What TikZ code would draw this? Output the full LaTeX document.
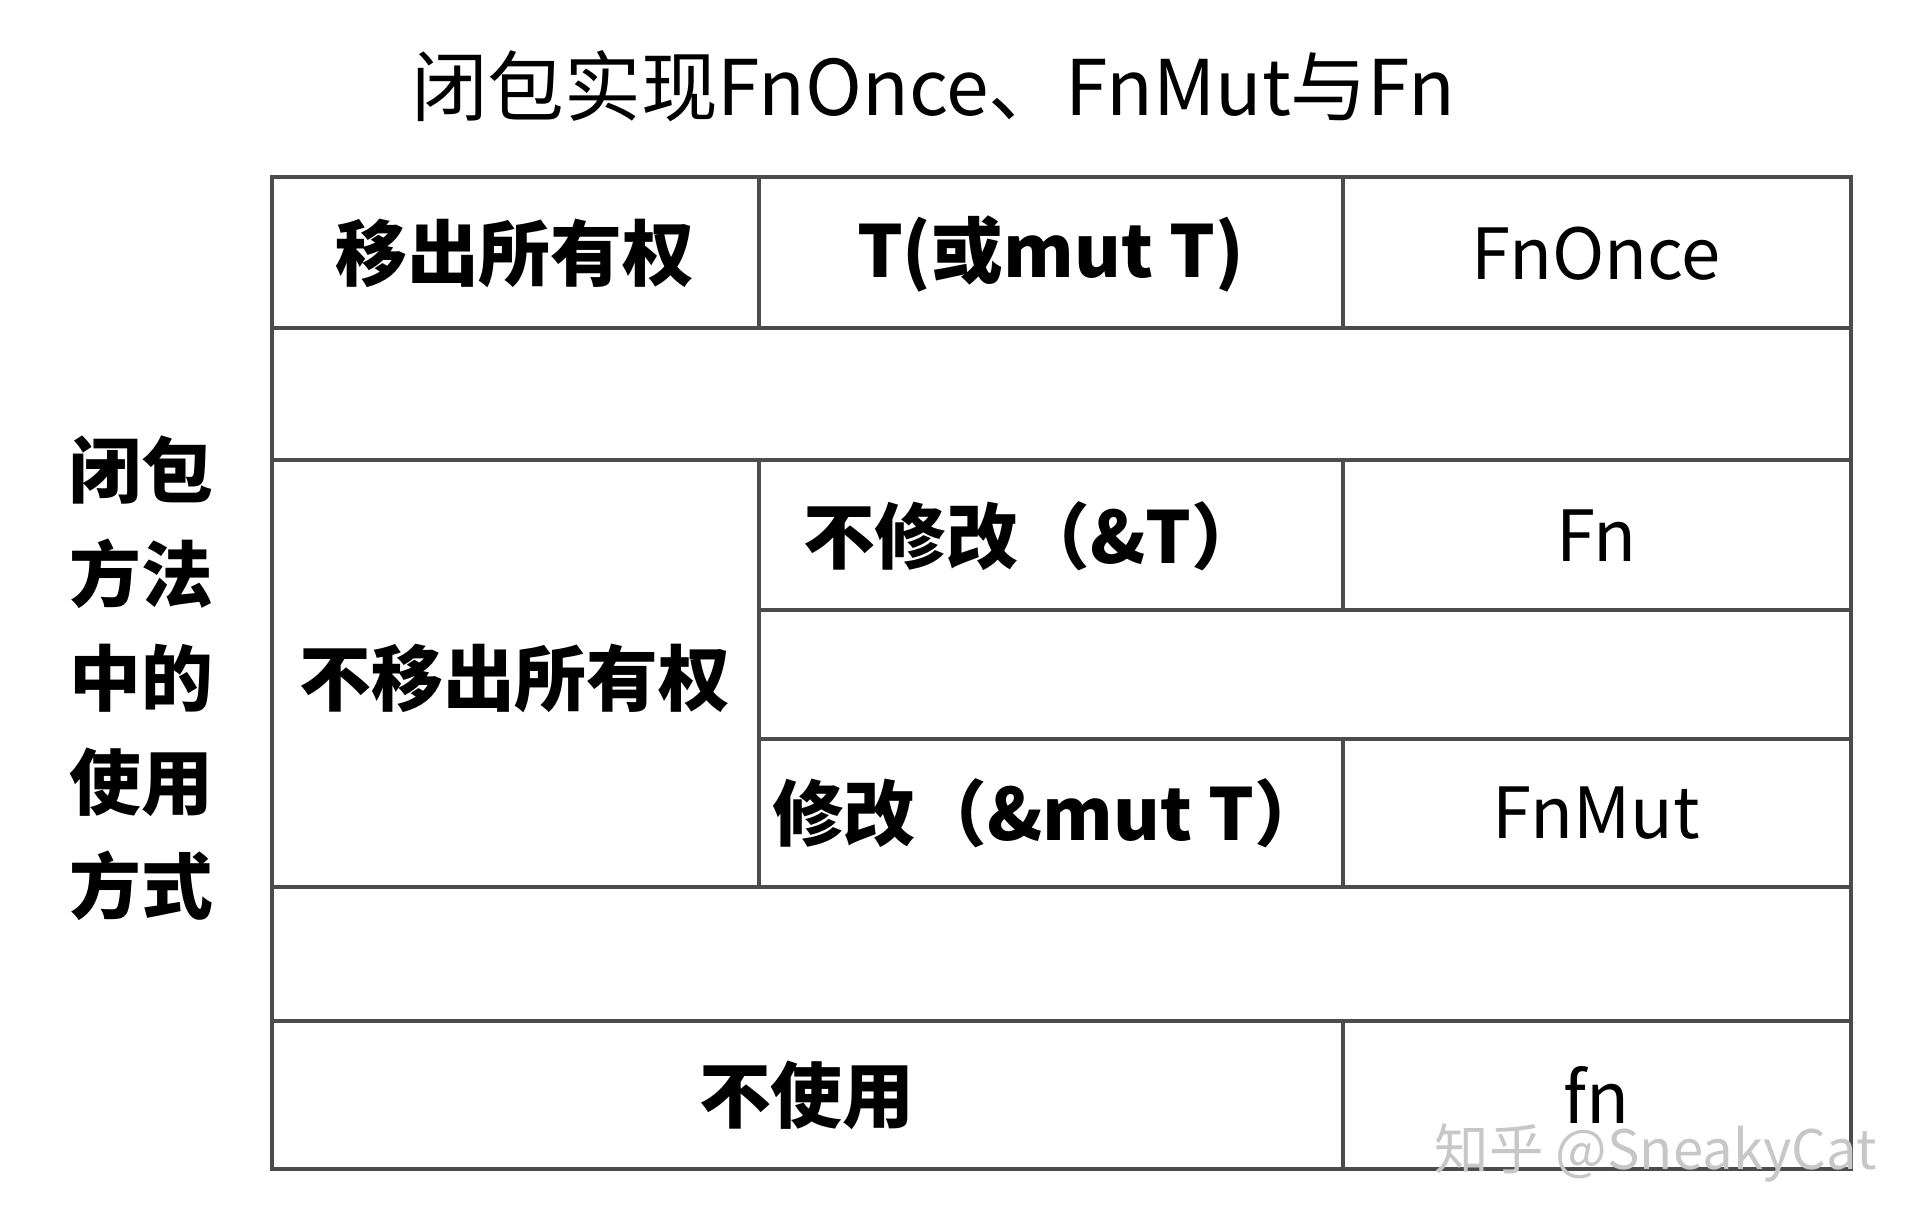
\documentclass[tikz,border=0pt]{standalone}
\usepackage{fontspec}
\setmainfont{Noto Sans CJK SC}
\begin{document}
\begin{tikzpicture}[x=0.5pt,y=-0.5pt,
  ln/.style={draw=black!70,line width=1.6pt},
  bl/.style={font=\fontsize{29}{34}\selectfont\bfseries},
  rg/.style={font=\fontsize{28.5}{34}\selectfont}]
\useasboundingbox (0,0) rectangle (1550,992);
\node[font=\fontsize{31}{36}\selectfont] (title) at (754,70) {闭包实现FnOnce、FnMut与Fn};
\draw[ln] (220,143) rectangle (1496,945);
\draw[ln] (613,143) -- (613,265);
\draw[ln] (1085,143) -- (1085,265);
\draw[ln] (220,265) -- (1496,265);
\draw[ln] (220,372) -- (1496,372);
\draw[ln] (613,372) -- (613,717);
\draw[ln] (1085,372) -- (1085,493);
\draw[ln] (613,493) -- (1496,493);
\draw[ln] (613,597) -- (1496,597);
\draw[ln] (1085,597) -- (1085,717);
\draw[ln] (220,717) -- (1496,717);
\draw[ln] (220,825) -- (1496,825);
\draw[ln] (1085,825) -- (1085,945);
\node[bl] (a) at (416,205) {移出所有权};
\node[bl] (b) at (849,205) {T(或mut T)};
\node[rg] (c) at (1290,205) {FnOnce};
\node[bl] (d) at (416,548) {不移出所有权};
\node[bl] (e) at (835,433) {不修改（\&T）};
\node[rg] (f) at (1290,433) {Fn};
\node[bl] (g) at (848,657) {修改（\&mut T）};
\node[rg] (h) at (1290,657) {FnMut};
\node[bl] (i) at (652,885) {不使用};
\node[rg] (j) at (1290,885) {fn};
\node[bl,align=center,font=\fontsize{29}{42}\selectfont\bfseries] (side) at (114,548) {闭包\\方法\\中的\\使用\\方式};
\node[text=black!22,font=\fontsize{22}{26}\selectfont] (wm) at (1338,932) {知乎 @SneakyCat};
\end{tikzpicture}
\end{document}
